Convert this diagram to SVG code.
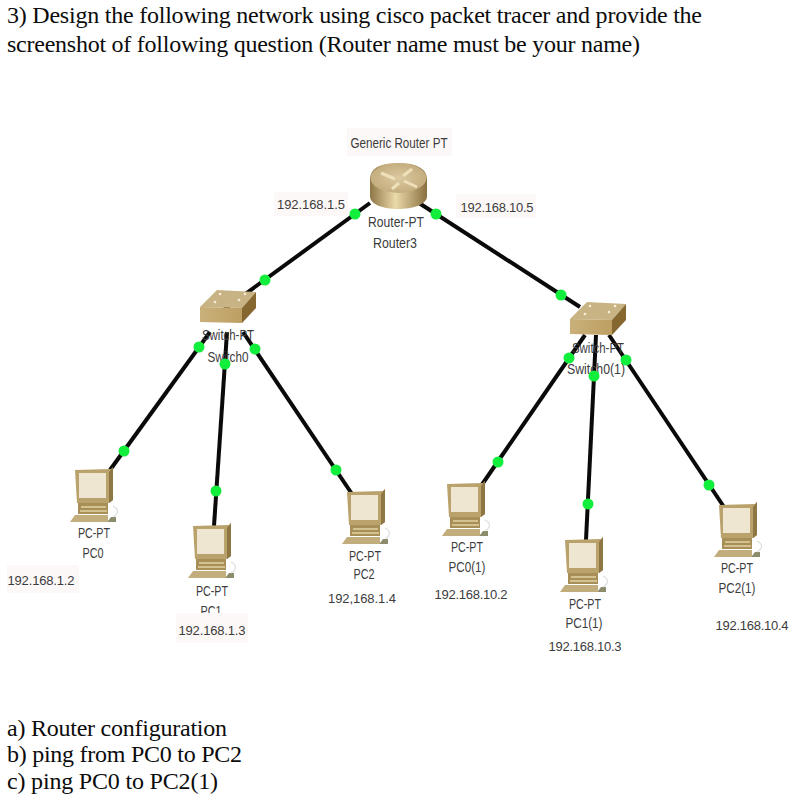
<svg xmlns="http://www.w3.org/2000/svg" width="793" height="801" viewBox="0 0 793 801">
<style>
.h{font-family:"Liberation Serif","Times New Roman",serif;font-size:24px;fill:#0c0c0c}
.l{font-family:"Liberation Sans",Arial,sans-serif;font-size:14px;fill:#3c3c3c;text-anchor:middle}
.ip{font-family:"Liberation Sans",Arial,sans-serif;font-size:13px;fill:#3c3c3c;text-anchor:middle}
.c{stroke:#0a0a0a;stroke-width:4;fill:none}
.d{fill:#12ee3c}
.bg{fill:#fcf8f8}
</style>
<defs>
<linearGradient id="rs" x1="0" x2="1" y1="0" y2="0"><stop offset="0" stop-color="#8f7646"/><stop offset=".45" stop-color="#ead9aa"/><stop offset="1" stop-color="#8a7040"/></linearGradient>
<radialGradient id="rt" cx=".5" cy=".5" r=".6"><stop offset="0" stop-color="#dcc9a0"/><stop offset="1" stop-color="#bfa878"/></radialGradient>
<linearGradient id="sf" x1="0" x2="1" y1="0" y2="0"><stop offset="0" stop-color="#c9b07a"/><stop offset="1" stop-color="#bd9f62"/></linearGradient>
<g id="sw">
<path d="M0 18 L17 1 L56 3 L42 19 Z" fill="#c8b384"/>
<path d="M42 19 L56 3 L56 19 L42 34 Z" fill="#85672f"/>
<path d="M0 18 L42 19 L42 34 L0 33 Z" fill="url(#sf)"/>
<g fill="#f6eed6"><circle cx="20" cy="5" r="1.300"/><circle cx="45" cy="5" r="1.300"/><circle cx="15" cy="13" r="1.300"/><circle cx="39" cy="11" r="1.300"/></g>
</g>
<g id="pc">
<path d="M0 3 L36 2 L38 0 L38 33 L34 36 L2 36 Z" fill="#b9a26c"/>
<path d="M34 5 L38 0 L38 33 L34 36 Z" fill="#8e7743"/>
<rect x="4" y="6" width="27" height="25" fill="#efe6d2"/>
<path d="M3 36 H33 V47 H3 Z" fill="#a88f58"/>
<path d="M6 40 H31 M5 44 H32" stroke="#e2d2a2" stroke-width="1.500"/>
<path d="M-5 55 L0 48 H33 L33 55 Z" fill="#c2ae7c"/>
<path d="M33 54 L36 50 H41 V55 H33 Z" fill="#8c8c6c"/>
<path d="M38 50 C44 46 44 42 38 39" fill="none" stroke="#ddd" stroke-width="1.200"/>
</g>
</defs>
<rect width="793" height="801" fill="#fff"/>
<g id="heading">
<text class="h" x="7" y="23" textLength="695">3) Design the following network using cisco packet tracer and provide the</text>
<text class="h" x="7" y="52" textLength="633">screenshot of following question (Router name must be your name)</text>
</g>
<g id="connectors">
<path class="c" d="M370 203 L222 311"/>
<path class="c" d="M419 203 L580 307"/>
<path class="c" d="M210 332 L110 470"/>
<path class="c" d="M227 332 L214 526"/>
<path class="c" d="M243 332 L352 494"/>
<path class="c" d="M585 335 L481 486"/>
<path class="c" d="M596 335 L586 540"/>
<path class="c" d="M609 335 L724 507"/>
</g>
<g id="router">
<rect class="bg" x="347" y="128" width="105" height="28"/>
<text class="l" x="399" y="148" textLength="97" lengthAdjust="spacingAndGlyphs">Generic Router PT</text>
<path d="M370 180 C370 166 384 163 398 163 C414 163 427 167 427 180 L427 196 C427 205 412 209 398 209 C384 209 370 205 370 196 Z" fill="url(#rs)"/>
<ellipse cx="398.500" cy="178" rx="28" ry="15" fill="url(#rt)"/>
<path d="M381 173 L395 179 M404 181 L417 187 M392 189 L399 183 M403 176 L412 169" stroke="#eee0bb" stroke-width="3" fill="none"/>
<text class="l" x="396" y="227" textLength="56" lengthAdjust="spacingAndGlyphs">Router-PT</text>
<text class="l" x="395" y="248" textLength="44" lengthAdjust="spacingAndGlyphs">Router3</text>
</g>
<g id="label-192-168-1-5"><rect class="bg" x="274" y="192" width="74" height="24"/><text class="ip" x="311" y="209" textLength="68">192.168.1.5</text></g>
<g id="label-192-168-10-5"><rect class="bg" x="456" y="194" width="80" height="24"/><text class="ip" x="497" y="212" textLength="73">192.168.10.5</text></g>
<g id="switch0">
<use href="#sw" x="200" y="289"/>
<text class="l" x="228" y="340" textLength="52" lengthAdjust="spacingAndGlyphs">Switch-PT</text>
<text class="l" x="228" y="362" textLength="41" lengthAdjust="spacingAndGlyphs">Switch0</text>
</g>
<g id="switch01">
<use href="#sw" x="570" y="301"/>
<text class="l" x="598" y="353" textLength="52" lengthAdjust="spacingAndGlyphs">Switch-PT</text>
<text class="l" x="596" y="374" textLength="58" lengthAdjust="spacingAndGlyphs">Switch0(1)</text>
</g>
<g id="pc0">
<use href="#pc" x="75" y="467"/>
<text class="l" x="94" y="538" textLength="32" lengthAdjust="spacingAndGlyphs">PC-PT</text><text class="l" x="93" y="558" textLength="21" lengthAdjust="spacingAndGlyphs">PC0</text>
</g>
<g id="label-192-168-1-2"><rect class="bg" x="7" y="565" width="72" height="28"/><text class="ip" x="41" y="585" textLength="67">192.168.1.2</text></g>
<g id="pc1">
<use href="#pc" x="193" y="523"/>
<text class="l" x="212" y="596" textLength="32" lengthAdjust="spacingAndGlyphs">PC-PT</text><text class="l" x="211" y="616" textLength="21" lengthAdjust="spacingAndGlyphs">PC1</text>
</g>
<g id="label-192-168-1-3"><rect class="bg" x="176" y="613" width="72" height="30"/><text class="ip" x="212" y="635" textLength="67">192.168.1.3</text></g>
<g id="pc2">
<use href="#pc" x="347" y="489"/>
<text class="l" x="365" y="561" textLength="32" lengthAdjust="spacingAndGlyphs">PC-PT</text><text class="l" x="364" y="579" textLength="21" lengthAdjust="spacingAndGlyphs">PC2</text>
<text class="ip" x="362" y="603" textLength="68">192,168.1.4</text>
</g>
<g id="pc01">
<use href="#pc" x="447" y="481"/>
<text class="l" x="467" y="552" textLength="32" lengthAdjust="spacingAndGlyphs">PC-PT</text><text class="l" x="467" y="572" textLength="37" lengthAdjust="spacingAndGlyphs">PC0(1)</text>
</g>
<g id="label-192-168-10-2"><text class="ip" x="471" y="599" textLength="73">192.168.10.2</text></g>
<g id="pc11">
<use href="#pc" x="565" y="537"/>
<text class="l" x="585" y="609" textLength="32" lengthAdjust="spacingAndGlyphs">PC-PT</text><text class="l" x="584" y="628" textLength="37" lengthAdjust="spacingAndGlyphs">PC1(1)</text>
<text class="ip" x="585" y="651" textLength="73">192.168.10.3</text>
</g>
<g id="pc21">
<use href="#pc" x="719" y="502"/>
<text class="l" x="737" y="573" textLength="32" lengthAdjust="spacingAndGlyphs">PC-PT</text><text class="l" x="737" y="593" textLength="37" lengthAdjust="spacingAndGlyphs">PC2(1)</text>
</g>
<g id="label-192-168-10-4"><text class="ip" x="752" y="630" textLength="73">192.168.10.4</text></g>
<g id="link-lights" class="d">
<circle cx="355" cy="214" r="5.500"/><circle cx="436" cy="214" r="5.500"/>
<circle cx="265" cy="280" r="5.500"/><circle cx="561" cy="295" r="5.500"/>
<circle cx="199" cy="347" r="5.500"/><circle cx="225" cy="364" r="5.500"/><circle cx="255" cy="349" r="5.500"/>
<circle cx="569" cy="358" r="5.500"/><circle cx="594" cy="376" r="5.500"/><circle cx="626" cy="360" r="5.500"/>
<circle cx="124" cy="451" r="5.500"/><circle cx="216" cy="491" r="5.500"/><circle cx="336" cy="470" r="5.500"/>
<circle cx="498" cy="462" r="5.500"/><circle cx="588" cy="504" r="5.500"/><circle cx="709" cy="485" r="5.500"/>
</g>
<g id="questions">
<text class="h" x="7" y="736" textLength="220">a) Router configuration</text>
<text class="h" x="7" y="762" textLength="235">b) ping from PC0 to PC2</text>
<text class="h" x="7" y="789" textLength="211">c) ping PC0 to PC2(1)</text>
</g>
</svg>
